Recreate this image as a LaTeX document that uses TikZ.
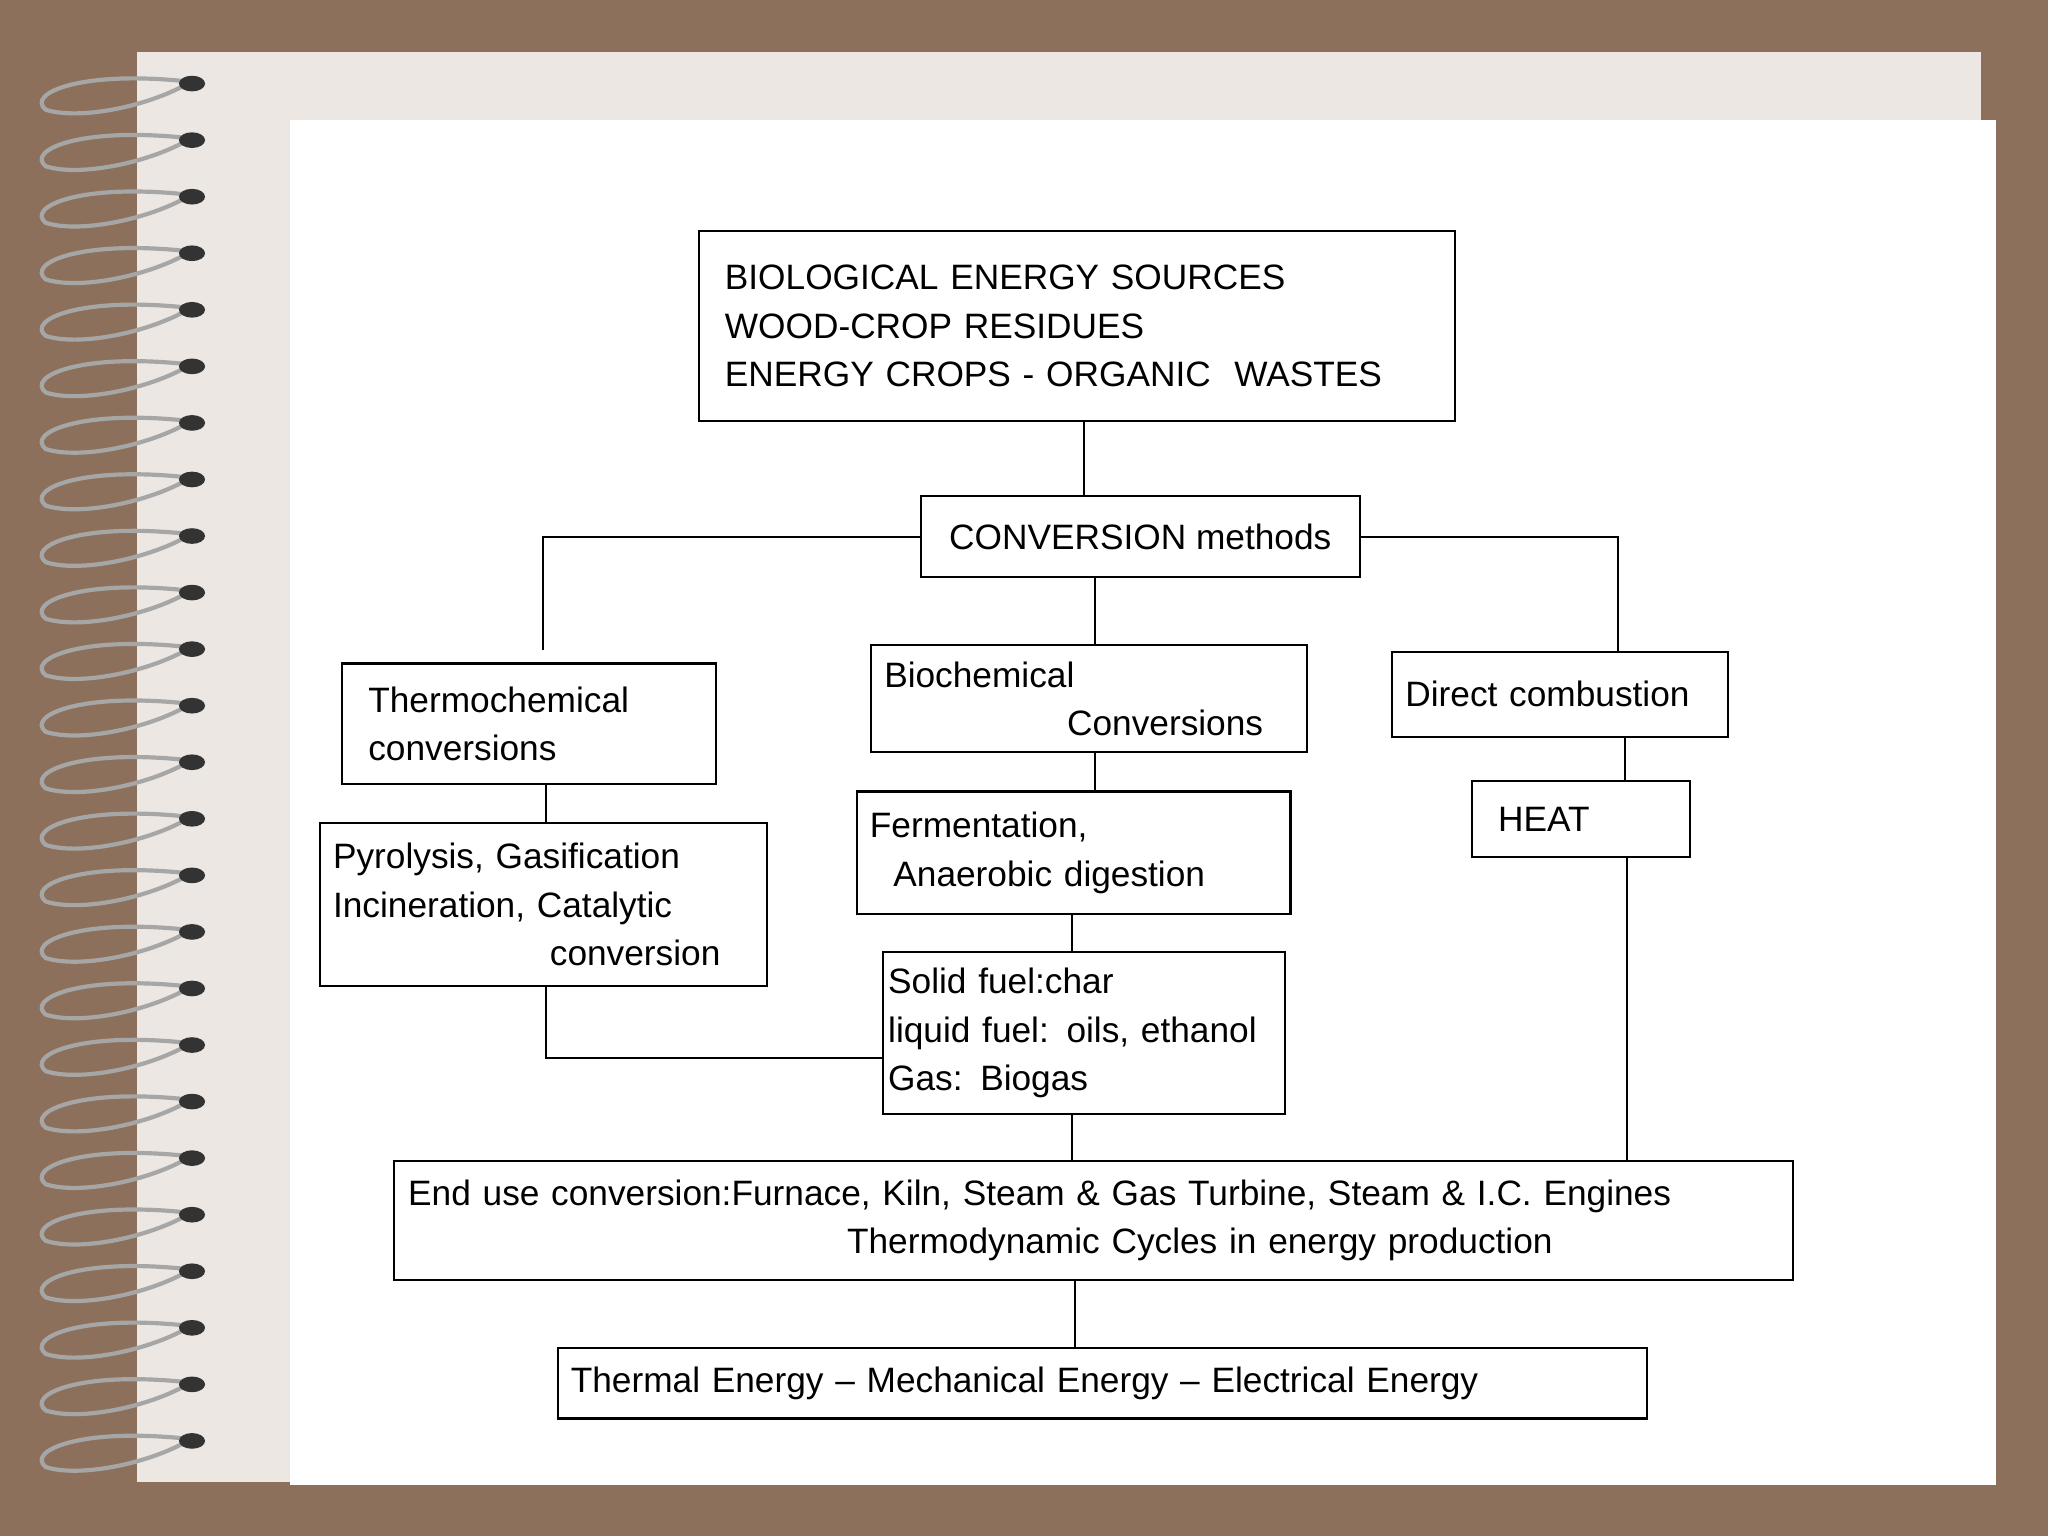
\documentclass[tikz,border=0pt]{standalone}
\usepackage{fontspec}
\setmainfont{Liberation Sans}
\definecolor{bgbrown}{HTML}{8D705B}
\definecolor{paper}{HTML}{ECE7E3}
\tikzset{
  box/.style={draw, rectangle, line width=0.8pt, inner xsep=10pt, align=left,
    font=\fontsize{13.5}{18.5}\selectfont},
  link/.style={line width=0.8pt}
}
\begin{document}
\begin{tikzpicture}[x=0.5pt, y=-0.5pt]
  % pages
  \fill[bgbrown] (0,0) rectangle (1568,1176);
  \useasboundingbox (0,0) rectangle (1568,1176);
  \fill[paper] (105,40) rectangle (1517,1135);
  \fill[white] (222,92) rectangle (1528,1137);
  % spiral rings
  \foreach \k in {0,...,24} {
    \pgfmathsetmacro{\yy}{62+\k*43.3}
    \draw[gray!70, line width=1.6pt] (140,\yy) .. controls (60,\yy-8) and (20,\yy+10) .. (35,\yy+22) .. controls (60,\yy+30) and (110,\yy+20) .. (140,\yy+4);
    \fill[black!80] (147,\yy+2) ellipse (10 and 6);
  }
  % boxes
  \node[box, minimum width=289.5pt, minimum height=72.5pt, text width=269.5pt] (src) at (824.5,249.5)
    {BIOLOGICAL ENERGY SOURCES\\WOOD-CROP RESIDUES\\ENERGY CROPS - ORGANIC\ \ WASTES};
  \node[box, minimum width=168pt, minimum height=31pt, inner xsep=5pt] (conv) at (873,411) {CONVERSION methods};
  \node[box, minimum width=143pt, minimum height=46pt, text width=123pt] (thermo) at (405,554) {Thermochemical\\conversions};
  \node[box, minimum width=167pt, minimum height=41pt, text width=157pt, inner xsep=5pt] (bio) at (834,535) {Biochemical\\\hspace*{70pt}Conversions};
  \node[box, minimum width=128.5pt, minimum height=32.5pt, text width=118.5pt, inner xsep=5pt] (direct) at (1194.5,531.5) {Direct combustion};
  \node[box, minimum width=83.5pt, minimum height=29pt, text width=63.5pt] (heat) at (1210.5,627) {HEAT};
  \node[box, minimum width=171pt, minimum height=62.5pt, text width=161pt, inner xsep=5pt] (pyro) at (416,692.5) {Pyrolysis, Gasification\\Incineration, Catalytic\\\hspace*{83pt}conversion};
  \node[box, minimum width=166pt, minimum height=47pt, text width=156pt, inner xsep=5pt] (ferm) at (822,653) {Fermentation,\\\ \ Anaerobic digestion};
  \node[box, minimum width=154pt, minimum height=62pt, text width=150pt, inner xsep=2pt] (solid) at (830,791) {Solid fuel:char\\liquid fuel: oils, ethanol\\Gas: Biogas};
  \node[box, minimum width=535.5pt, minimum height=45.5pt, text width=525pt, inner xsep=5pt] (enduse) at (837.5,934.5)
    {End use conversion:Furnace, Kiln, Steam \& Gas Turbine, Steam \& I.C. Engines\\\hspace*{168pt}Thermodynamic Cycles in energy production\\[-6pt]};
  \node[box, minimum width=417pt, minimum height=27pt, text width=407pt, inner xsep=5pt] (out) at (844,1059) {Thermal Energy -- Mechanical Energy -- Electrical Energy};
  % column coordinates
  \coordinate (xa) at (830,0);
  \coordinate (xb) at (838,0);
  \coordinate (xc) at (418,0);
  \coordinate (xe) at (1244,0);
  \coordinate (xh) at (1246,0);
  \coordinate (xf) at (821,0);
  \coordinate (xg) at (823,0);
  \coordinate (tl) at (416,498);
  \coordinate (tr) at (1239,499);
  \coordinate (pk) at (418,810);
  % connectors
  \draw[link] (src.south -| xa) -- (conv.north -| xa);
  \draw[link] (conv.west) -| (tl);
  \draw[link] (conv.east) -| (tr);
  \draw[link] (conv.south -| xb) -- (bio.north -| xb);
  \draw[link] (thermo.south -| xc) -- (pyro.north -| xc);
  \draw[link] (bio.south -| xb) -- (ferm.north -| xb);
  \draw[link] (direct.south -| xe) -- (heat.north -| xe);
  \draw[link] (ferm.south -| xf) -- (solid.north -| xf);
  \draw[link] (pyro.south -| xc) -- (pk) -- (pk -| solid.west);
  \draw[link] (heat.south -| xh) -- (enduse.north -| xh);
  \draw[link] (solid.south -| xf) -- (enduse.north -| xf);
  \draw[link] (enduse.south -| xg) -- (out.north -| xg);
\end{tikzpicture}
\end{document}
